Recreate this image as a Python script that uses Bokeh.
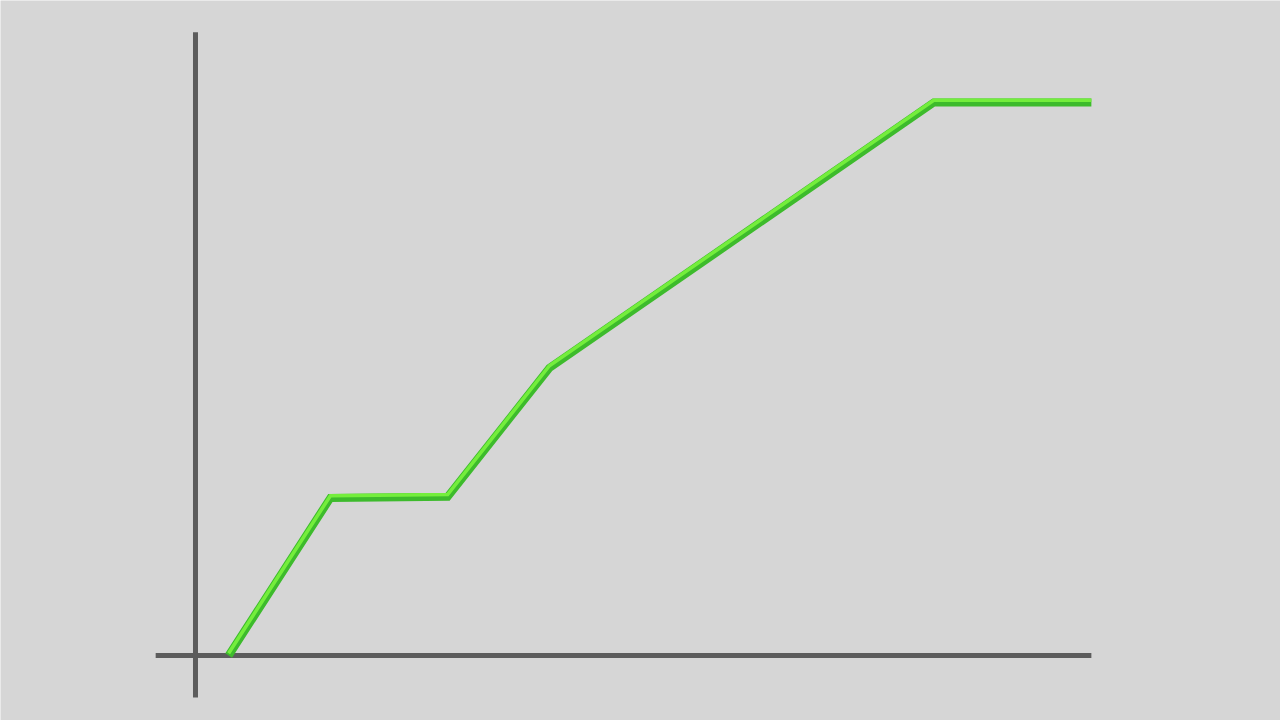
from bokeh.plotting import figure
from bokeh.embed import file_html
from bokeh.resources import INLINE
from bokeh.models import Range1d

# data (arbitrary units)
x_vals = [0.6, 2.44, 4.56, 6.4, 13.35, 16.2]
y_vals = [0.0, 2.85, 2.87, 5.2, 10.0, 10.0]

# axis extents
x_axis_start, x_axis_end = -0.72, 16.2
y_axis_start, y_axis_end = -0.76, 11.27

BG = "#d6d6d6"

p = figure(width=1280, height=720, output_backend="svg", toolbar_location=None,
           x_range=Range1d(-3.526, 19.620), y_range=Range1d(-1.175, 11.844),
           min_border=0, background_fill_color=BG, border_fill_color=BG)
p.axis.visible = False
p.grid.visible = False
p.outline_line_color = None

# axes lines
p.segment(x0=[x_axis_start], y0=[0], x1=[x_axis_end], y1=[0], line_color="#5c5c5c", line_width=5)
p.segment(x0=[0], y0=[y_axis_start], x1=[0], y1=[y_axis_end], line_color="#5c5c5c", line_width=5)

# green line (two-tone)
p.line(x_vals, y_vals, line_color="#3dbb2c", line_width=8, line_join="miter")
p.line(x_vals, [v + 0.04 for v in y_vals], line_color="#74ee3c", line_width=3.5, line_join="miter")

html = file_html(p, INLINE)
html = html.replace("<body>", '<body style="background:%s;margin:0;overflow:hidden">' % BG, 1)
open("out.html", "w").write(html)
